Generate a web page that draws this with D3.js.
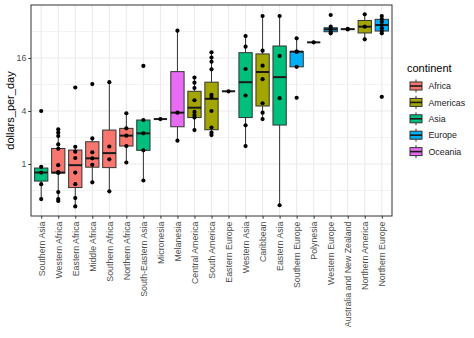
<!DOCTYPE html>
<html>
<head>
<meta charset="utf-8">
<script src="https://cdn.jsdelivr.net/npm/d3@7"></script>
<style>
  body { margin: 0; background: #fff; }
  text { font-family: "Liberation Sans", Arial, sans-serif; }
</style>
</head>
<body>
<svg id="chart" width="474" height="338"></svg>
<script>
const regions = ["Southern Asia", "Western Africa", "Eastern Africa", "Middle Africa", "Southern Africa",
  "Northern Africa", "South-Eastern Asia", "Micronesia", "Melanesia", "Central America", "South America",
  "Eastern Europe", "Western Asia", "Caribbean", "Eastern Asia", "Southern Europe", "Polynesia",
  "Western Europe", "Australia and New Zealand", "Northern America", "Northern Europe"];
const continents = ["Asia", "Africa", "Africa", "Africa", "Africa", "Africa", "Asia", "Oceania", "Oceania",
  "Americas", "Americas", "Europe", "Asia", "Americas", "Asia", "Europe", "Oceania", "Europe", "Oceania",
  "Americas", "Europe"];

// box stats per region (dollars per day)
const whiskerLow = [0.40, 0.38, 0.33, 0.62, 0.49, 1.04, 0.65, 3.24, 1.84, 2.43, 2.13, 6.7, 1.60, 3.24, 0.34, 12.7, 24.1, 30.5, 33.7, 26.1, 30.5];
const q1 = [0.64, 0.79, 0.54, 0.92, 0.91, 1.60, 1.43, 3.24, 2.65, 3.37, 2.45, 6.7, 3.37, 4.56, 2.77, 12.7, 24.1, 31.8, 33.85, 30.8, 32.4];
const medians = [0.80, 0.80, 0.97, 1.16, 1.33, 2.10, 2.23, 3.24, 3.83, 4.36, 5.5, 6.7, 8.5, 11.1, 9.7, 18.9, 24.1, 33.9, 34.0, 36.3, 37.9];
const q3 = [0.90, 1.50, 1.44, 1.79, 2.43, 2.54, 3.16, 3.24, 11.2, 6.7, 8.5, 6.7, 18.4, 17.8, 21.9, 18.9, 24.1, 35.3, 34.15, 42.7, 44.0];
const whiskerHigh = [0.93, 2.48, 1.57, 1.95, 8.5, 3.77, 3.16, 3.24, 32.7, 9.6, 18.6, 6.7, 28.4, 48, 48, 26.8, 24.1, 36.3, 34.3, 50.2, 48];

// country values drawn as points
const points = [
  [4.0, 0.93, 0.8, 0.59, 0.4],
  [2.48, 2.27, 2.08, 1.67, 1.49, 0.97, 0.81, 0.79, 0.48, 0.40, 0.38],
  [7.4, 1.57, 1.38, 1.17, 0.80, 0.59, 0.41, 0.33],
  [8.1, 1.95, 1.36, 1.16, 0.98, 0.62],
  [8.5, 1.58, 1.13, 0.49],
  [3.77, 2.54, 2.10, 1.60, 1.04],
  [13, 3.16, 2.23, 1.43, 0.65],
  [3.24],
  [32.7, 3.83, 1.84],
  [9.6, 8.4, 7.3, 5.3, 3.9, 3.6, 3.37, 2.43],
  [18.6, 16.2, 14.5, 11.9, 6.1, 5.7, 4.0, 2.59, 2.27, 2.13],
  [6.7],
  [28.4, 21.5, 12.0, 6.0, 2.75, 1.60],
  [48, 19.4, 13.1, 9.2, 4.9, 3.83, 3.24],
  [48, 16.9, 5.6, 0.34],
  [26.8, 18.9, 18.9, 12.7, 5.66],
  [24.1],
  [49.3, 36.3, 33.9, 31.8, 30.5],
  [34.3, 33.7],
  [50.2, 36.3, 26.1],
  [48, 44.4, 41.3, 37.9, 34.8, 32.4, 30.5, 5.8]
];

const continentNames = ["Africa", "Americas", "Asia", "Europe", "Oceania"];
const continentColors = ["#F8766D", "#A3A500", "#00BF7D", "#00B0F6", "#E76BF3"];
const yTicks = [1, 4, 16];
const yMinor = [0.5, 2, 8, 32];

const svg = d3.select("#chart");
const panel = { left: 31, right: 392, top: 5, bottom: 216 };

const xScale = d3.scalePoint().domain(regions).range([panel.left, panel.right]).padding(0.6);
const yScale = d3.scaleLog().base(2)
  .domain([Math.pow(2, -1.962), 64])
  .range([panel.bottom, panel.top]);
const color = d3.scaleOrdinal().domain(continentNames).range(continentColors);

svg.append("rect").attr("width", 474).attr("height", 338).attr("fill", "#fff");

// grid
const grid = svg.append("g");
grid.selectAll(".minor").data(yMinor).enter().append("line")
  .attr("x1", panel.left).attr("x2", panel.right)
  .attr("y1", d => yScale(d)).attr("y2", d => yScale(d))
  .attr("stroke", "#EBEBEB").attr("stroke-width", 0.6);
grid.selectAll(".major").data(yTicks).enter().append("line")
  .attr("x1", panel.left).attr("x2", panel.right)
  .attr("y1", d => yScale(d)).attr("y2", d => yScale(d))
  .attr("stroke", "#EBEBEB").attr("stroke-width", 1.1);
grid.selectAll(".vmajor").data(regions).enter().append("line")
  .attr("x1", d => xScale(d)).attr("x2", d => xScale(d))
  .attr("y1", panel.top).attr("y2", panel.bottom)
  .attr("stroke", "#EBEBEB").attr("stroke-width", 1.1);

const rows = regions.map((r, i) => ({
  region: r, continent: continents[i], lo: whiskerLow[i], q1: q1[i], med: medians[i],
  q3: q3[i], hi: whiskerHigh[i], pts: points[i]
}));

const boxW = xScale.step() * 0.78;
const boxes = svg.append("g").selectAll("g").data(rows).enter().append("g");

// whiskers
boxes.append("line")
  .attr("x1", d => xScale(d.region)).attr("x2", d => xScale(d.region))
  .attr("y1", d => yScale(d.hi)).attr("y2", d => yScale(d.q3))
  .attr("stroke", "#333").attr("stroke-width", 1);
boxes.append("line")
  .attr("x1", d => xScale(d.region)).attr("x2", d => xScale(d.region))
  .attr("y1", d => yScale(d.q1)).attr("y2", d => yScale(d.lo))
  .attr("stroke", "#333").attr("stroke-width", 1);

boxes.append("rect")
  .attr("x", d => xScale(d.region) - boxW / 2)
  .attr("width", boxW)
  .attr("y", d => yScale(d.q3))
  .attr("height", d => yScale(d.q1) - yScale(d.q3))
  .attr("fill", d => color(d.continent))
  .attr("stroke", "#333").attr("stroke-width", 1);

boxes.append("line")
  .attr("x1", d => xScale(d.region) - boxW / 2).attr("x2", d => xScale(d.region) + boxW / 2)
  .attr("y1", d => yScale(d.med)).attr("y2", d => yScale(d.med))
  .attr("stroke", "#1a1a1a").attr("stroke-width", 2);

boxes.selectAll("circle").data(d => d.pts.map(v => ({ region: d.region, v }))).enter()
  .append("circle")
  .attr("cx", d => xScale(d.region))
  .attr("cy", d => yScale(d.v))
  .attr("r", 2.1)
  .attr("fill", "#000");

// panel border
svg.append("rect")
  .attr("x", panel.left).attr("y", panel.top)
  .attr("width", panel.right - panel.left).attr("height", panel.bottom - panel.top)
  .attr("fill", "none").attr("stroke", "#333").attr("stroke-width", 1);

// axes
const yAxis = d3.axisLeft(yScale).tickValues(yTicks).tickFormat(d3.format("d")).tickSize(2.7).tickPadding(2);
const yG = svg.append("g").attr("transform", `translate(${panel.left},0)`).call(yAxis);
yG.select(".domain").remove();
yG.selectAll(".tick line").attr("stroke", "#333");
yG.selectAll(".tick text").attr("fill", "#4D4D4D").style("font-size", "8.8px")
  .style("font-family", "'Liberation Sans', Arial, sans-serif");

const xAxis = d3.axisBottom(xScale).tickSize(2.7);
const xG = svg.append("g").attr("transform", `translate(0,${panel.bottom})`).call(xAxis);
xG.select(".domain").remove();
xG.selectAll(".tick line").attr("stroke", "#333");
xG.selectAll(".tick text")
  .attr("fill", "#4D4D4D").style("font-size", "8.8px")
  .style("font-family", "'Liberation Sans', Arial, sans-serif")
  .attr("text-anchor", "end")
  .attr("dy", null)
  .attr("y", 0)
  .attr("transform", "translate(3.2,5.5) rotate(-90)");

svg.append("text")
  .attr("transform", `translate(14,${(panel.top + panel.bottom) / 2}) rotate(-90)`)
  .attr("text-anchor", "middle")
  .style("font-size", "11px")
  .attr("fill", "#000")
  .text("dollars_per_day");

// legend
const legend = svg.append("g");
legend.append("text").attr("x", 407).attr("y", 72)
  .style("font-size", "11px").attr("fill", "#000").text("continent");
const keys = legend.selectAll(".key").data(continentNames).enter().append("g")
  .attr("transform", (d, i) => `translate(416,${86 + i * 16.4})`);
keys.append("line").attr("x1", 0).attr("x2", 0).attr("y1", -6.5).attr("y2", 6.5)
  .attr("stroke", "#333");
keys.append("rect").attr("x", -6).attr("y", -4).attr("width", 12).attr("height", 8)
  .attr("fill", d => color(d)).attr("stroke", "#333");
keys.append("line").attr("x1", -6).attr("x2", 6).attr("y1", 0).attr("y2", 0)
  .attr("stroke", "#1a1a1a").attr("stroke-width", 1.6);
keys.append("text").attr("x", 12.5).attr("y", 3.2)
  .style("font-size", "8.8px").attr("fill", "#1a1a1a").text(d => d);
</script>
</body>
</html>
